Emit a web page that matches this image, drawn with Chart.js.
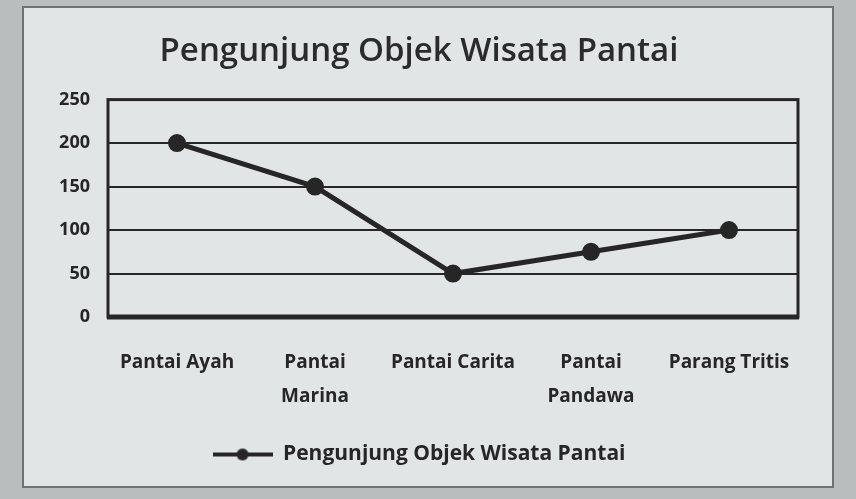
<!DOCTYPE html>
<html>
<head>
<meta charset="utf-8">
<script src="https://cdn.jsdelivr.net/npm/chart.js@4"></script>
<style>
  html, body { margin: 0; padding: 0; background: #b9bdbe; }
  #wrap { position: relative; width: 856px; height: 499px; }
  #frame { position: absolute; left: 22px; top: 6px; width: 812px; height: 482px;
           background: #e2e5e6; border: 2px solid #6d7274; box-sizing: border-box; }
  canvas { position: absolute; left: 0; top: 0; }
</style>
</head>
<body>
<div id="wrap">
  <div id="frame"></div>
  <canvas id="chart" width="856" height="499"></canvas>
</div>
<script>
const categories = ['Pantai Ayah', ['Pantai', 'Marina'], 'Pantai Carita', ['Pantai', 'Pandawa'], 'Parang Tritis'];
const visitors = [200, 150, 50, 75, 100];
const seriesName = 'Pengunjung Objek Wisata Pantai';

const ink = '#262626';
const fontFamily = '"Open Sans", sans-serif';

// little line-with-dot swatch for the legend
const swatch = document.createElement('canvas');
swatch.width = 60;
swatch.height = 14;
const sctx = swatch.getContext('2d');
sctx.strokeStyle = ink;
sctx.lineWidth = 4;
sctx.beginPath();
sctx.moveTo(0, 7);
sctx.lineTo(60, 7);
sctx.stroke();
sctx.fillStyle = ink;
sctx.beginPath();
sctx.arc(30, 7, 6, 0, Math.PI * 2);
sctx.fill();

const plotBox = {
  id: 'plotBox',
  afterDraw(chart) {
    const { ctx, chartArea: a } = chart;
    ctx.save();
    ctx.strokeStyle = ink;
    ctx.lineWidth = 3;
    ctx.strokeRect(a.left, a.top, a.right - a.left, a.bottom - a.top);
    ctx.lineWidth = 5;
    ctx.beginPath();
    ctx.moveTo(a.left - 1, a.bottom);
    ctx.lineTo(a.right + 1, a.bottom);
    ctx.stroke();
    ctx.restore();
  }
};

new Chart(document.getElementById('chart').getContext('2d'), {
  type: 'line',
  data: {
    labels: categories,
    datasets: [
      {
        label: seriesName,
        data: visitors,
        borderColor: ink,
        backgroundColor: ink,
        borderWidth: 5,
        pointRadius: 6.5,
        pointHoverRadius: 6.5,
        pointBackgroundColor: ink,
        tension: 0
      }
    ]
  },
  options: {
    responsive: false,
    animation: false,
    layout: { padding: { left: 40, right: 58, top: 24, bottom: 24 } },
    plugins: {
      title: {
        display: true,
        text: seriesName,
        color: '#2b2b2b',
        font: { family: fontFamily, size: 33, weight: '600' },
        padding: { top: 8, bottom: 28 }
      },
      legend: {
        position: 'bottom',
        labels: {
          color: ink,
          font: { family: fontFamily, size: 21, weight: 'bold' },
          usePointStyle: true,
          pointStyleWidth: 60,
          padding: 10,
          generateLabels(chart) {
            return [{
              text: seriesName,
              pointStyle: swatch,
              fontColor: ink,
              strokeStyle: ink,
              fillStyle: ink,
              lineWidth: 0,
              datasetIndex: 0
            }];
          }
        }
      },
      tooltip: { enabled: false }
    },
    scales: {
      x: {
        offset: true,
        afterFit(scale) { scale.height = 117; },
        grid: { display: false },
        border: { display: false },
        ticks: {
          color: ink,
          font: { family: fontFamily, size: 19, weight: 'bold', lineHeight: 1.8 },
          padding: 20,
          maxRotation: 0
        }
      },
      y: {
        min: 0,
        max: 250,
        afterFit(scale) { scale.width = 68; },
        grid: { color: ink, lineWidth: 2, drawTicks: false },
        border: { display: false },
        ticks: {
          stepSize: 50,
          color: ink,
          font: { family: fontFamily, size: 18, weight: 'bold' },
          padding: 18
        }
      }
    }
  },
  plugins: [plotBox]
});
</script>
</body>
</html>
